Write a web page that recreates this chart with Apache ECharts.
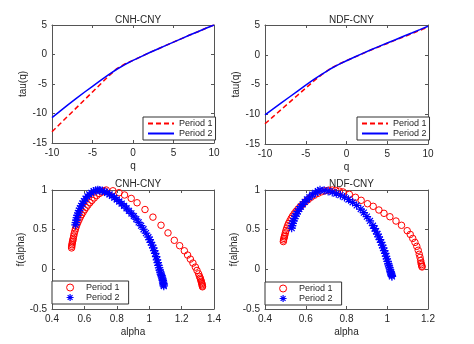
<!DOCTYPE html>
<html><head><meta charset="utf-8">
<script src="https://cdn.jsdelivr.net/npm/echarts@6/dist/echarts.min.js"></script>
<style>html,body{margin:0;padding:0;background:#fff}#c{width:474px;height:344px}</style>
</head><body><div id="c"></div>
<script>
// ---------- data ----------
const panelTitles = ['CNH-CNY', 'NDF-CNY', 'CNH-CNY', 'NDF-CNY'];
const legendNames = ['Period 1', 'Period 2'];
const qTicks = [-10, -5, 0, 5, 10];
const tauTicks = [-15, -10, -5, 0, 5];
const alphaTicksCNH = [0.4, 0.6, 0.8, 1, 1.2, 1.4];
const alphaTicksNDF = [0.4, 0.6, 0.8, 1, 1.2];
const fTicks = [-0.5, 0, 0.5, 1];

const qValues = [-10, -9, -8, -7, -6, -5, -4, -3, -2, -1, 0, 1, 2, 3, 4, 5, 6, 7, 8, 9, 10];
const cnhTauPeriod1 = [-13.1, -11.75, -10.4, -9.05, -7.7, -6.35, -5.0, -3.65, -2.4, -1.6, -1.0, -0.35, 0.3, 0.9, 1.5, 2.1, 2.7, 3.3, 3.85, 4.45, 5.0];
const cnhTauPeriod2 = [-10.7, -9.6, -8.5, -7.45, -6.4, -5.4, -4.4, -3.4, -2.5, -1.7, -1.0, -0.35, 0.3, 0.9, 1.5, 2.1, 2.7, 3.3, 3.85, 4.45, 5.0];
const ndfTauPeriod1 = [-11.6, -10.4, -9.2, -8.0, -6.8, -5.6, -4.4, -3.3, -2.35, -1.6, -1.0, -0.4, 0.2, 0.8, 1.35, 1.9, 2.45, 3.0, 3.55, 4.1, 4.65];
const ndfTauPeriod2 = [-10.1, -9.1, -8.1, -7.1, -6.1, -5.1, -4.15, -3.25, -2.4, -1.65, -1.0, -0.38, 0.23, 0.83, 1.4, 1.97, 2.53, 3.1, 3.65, 4.22, 4.8];

// [alpha, f(alpha)]
const cnhSpectrumPeriod1 = [
 [0.521,0.27],[0.522,0.29],[0.523,0.31],[0.525,0.33],[0.527,0.35],[0.529,0.37],[0.531,0.39],[0.534,0.42],[0.537,0.45],[0.541,0.48],
 [0.545,0.51],[0.550,0.54],[0.555,0.57],[0.561,0.60],[0.568,0.63],[0.575,0.66],[0.583,0.69],[0.592,0.72],[0.601,0.75],[0.611,0.78],
 [0.622,0.81],[0.634,0.84],[0.647,0.87],[0.661,0.90],[0.676,0.93],[0.692,0.955],[0.708,0.975],[0.722,0.99],[0.735,1.0],[0.776,0.99],
 [0.814,0.966],[0.848,0.937],[0.889,0.894],[0.925,0.839],[0.974,0.754],[1.023,0.658],[1.073,0.556],[1.116,0.459],[1.155,0.366],[1.188,0.298],
 [1.217,0.234],[1.237,0.180],[1.254,0.129],[1.270,0.079],[1.285,0.028],[1.295,-0.014],[1.305,-0.057],[1.311,-0.09],[1.315,-0.111],[1.318,-0.13],
 [1.321,-0.15],[1.323,-0.166],[1.325,-0.18],[1.327,-0.195],[1.328,-0.21],[1.329,-0.22]
];
const cnhSpectrumPeriod2 = [
 [0.545,0.56],[0.547,0.59],[0.550,0.62],[0.553,0.65],[0.557,0.68],[0.562,0.71],[0.567,0.74],[0.573,0.77],[0.580,0.80],[0.588,0.83],
 [0.597,0.86],[0.607,0.89],[0.618,0.92],[0.630,0.945],[0.643,0.965],[0.657,0.985],[0.670,0.995],[0.683,1.0],[0.695,0.998],[0.710,0.99],
 [0.725,0.978],[0.740,0.963],[0.755,0.945],[0.770,0.925],[0.785,0.903],[0.800,0.88],[0.815,0.855],[0.830,0.828],[0.845,0.80],[0.860,0.77],
 [0.875,0.738],[0.890,0.705],[0.905,0.67],[0.920,0.632],[0.935,0.592],[0.950,0.55],[0.965,0.505],[0.980,0.457],[0.995,0.405],[1.003,0.375],
 [1.010,0.34],[1.018,0.305],[1.025,0.27],[1.031,0.235],[1.037,0.20],[1.043,0.16],[1.048,0.12],[1.053,0.085],[1.057,0.05],[1.061,0.02],
 [1.065,-0.01],[1.069,-0.035],[1.072,-0.06],[1.076,-0.08],[1.079,-0.10],[1.082,-0.12],[1.084,-0.14],[1.086,-0.16],[1.088,-0.18],[1.089,-0.195],[1.090,-0.21]
];
const ndfSpectrumPeriod1 = [
 [0.490,0.35],[0.491,0.37],[0.493,0.39],[0.495,0.41],[0.497,0.43],[0.500,0.46],[0.503,0.49],[0.507,0.52],[0.511,0.55],[0.516,0.58],
 [0.522,0.61],[0.528,0.64],[0.535,0.67],[0.543,0.70],[0.552,0.73],[0.562,0.76],[0.573,0.79],[0.585,0.82],[0.598,0.85],[0.612,0.88],
 [0.627,0.91],[0.643,0.935],[0.660,0.958],[0.677,0.977],[0.695,0.99],[0.712,0.998],[0.730,1.0],[0.748,0.995],[0.765,0.986],[0.783,0.975],
 [0.814,0.946],[0.844,0.908],[0.872,0.87],[0.903,0.827],[0.931,0.794],[0.959,0.748],[0.984,0.706],[1.013,0.663],[1.043,0.609],[1.070,0.555],
 [1.098,0.487],[1.113,0.44],[1.125,0.39],[1.136,0.34],[1.145,0.29],[1.152,0.24],[1.157,0.19],[1.161,0.15],[1.164,0.11],[1.166,0.08],
 [1.168,0.06],[1.170,0.04],[1.171,0.03]
];
const ndfSpectrumPeriod2 = [
 [0.531,0.52],[0.533,0.55],[0.536,0.58],[0.540,0.61],[0.544,0.64],[0.549,0.67],[0.555,0.70],[0.561,0.73],[0.568,0.76],[0.576,0.79],
 [0.585,0.82],[0.595,0.85],[0.606,0.88],[0.618,0.91],[0.632,0.94],[0.647,0.965],[0.660,0.985],[0.670,1.0],[0.690,0.995],[0.710,0.985],
 [0.730,0.972],[0.750,0.955],[0.770,0.935],[0.790,0.91],[0.810,0.88],[0.830,0.845],[0.850,0.805],[0.870,0.76],[0.885,0.715],[0.900,0.665],
 [0.915,0.61],[0.930,0.55],[0.938,0.515],[0.945,0.48],[0.952,0.445],[0.958,0.41],[0.964,0.375],[0.970,0.34],[0.975,0.305],[0.980,0.27],
 [0.985,0.235],[0.990,0.20],[0.994,0.165],[0.998,0.13],[1.002,0.10],[1.005,0.07],[1.008,0.045],[1.011,0.02],[1.014,-0.005],[1.016,-0.03],
 [1.018,-0.045],[1.020,-0.06],[1.022,-0.075],[1.023,-0.09]
];

// ---------- chart ----------
const RED = '#ff0000', BLUE = '#0000ff';
const AXIS_C = '#555555', TEXT_C = '#262626';
const FONT = 'Liberation Sans, Arial, sans-serif';
const grids = [
  {left: 52, top: 25, width: 162, height: 118},
  {left: 265, top: 25, width: 163, height: 119},
  {left: 52, top: 190, width: 162, height: 119},
  {left: 265, top: 190, width: 163, height: 119}
];
const panelX = [
  {ticks: qTicks, name: 'q', gap: 18},
  {ticks: qTicks, name: 'q', gap: 18},
  {ticks: alphaTicksCNH, name: 'alpha', gap: 18},
  {ticks: alphaTicksNDF, name: 'alpha', gap: 18}
];
const panelY = [
  {ticks: tauTicks, name: 'tau(q)', gap: 23},
  {ticks: tauTicks, name: 'tau(q)', gap: 23},
  {ticks: fTicks, name: 'f(alpha)', gap: 23},
  {ticks: fTicks, name: 'f(alpha)', gap: 23}
];
function rng(t) { return {min: t[0], max: t[t.length - 1], interval: +(t[1] - t[0]).toFixed(6)}; }
const xAxes = [], yAxes = [];
grids.forEach((g, i) => {
  const xr = rng(panelX[i].ticks), yr = rng(panelY[i].ticks);
  const common = {
    type: 'value', gridIndex: i, splitLine: {show: false},
    axisLine: {show: true, onZero: false, lineStyle: {color: AXIS_C, width: 1}},
    axisTick: {show: true, inside: true, length: 3, lineStyle: {color: AXIS_C}}
  };
  xAxes.push(Object.assign({}, common, xr, {
    position: 'bottom', name: panelX[i].name, nameLocation: 'middle', nameGap: panelX[i].gap,
    nameTextStyle: {fontSize: 10, color: TEXT_C, fontFamily: FONT},
    axisLabel: {fontSize: 10, color: TEXT_C, margin: 5, fontFamily: FONT}
  }));
  xAxes.push(Object.assign({}, common, xr, {position: 'top', axisLabel: {show: false}}));
  yAxes.push(Object.assign({}, common, yr, {
    position: 'left', name: panelY[i].name, nameLocation: 'middle', nameGap: panelY[i].gap, nameRotate: 90,
    nameTextStyle: {fontSize: 10, color: TEXT_C, fontFamily: FONT},
    axisLabel: {fontSize: 10, color: TEXT_C, margin: 5, fontFamily: FONT}
  }));
  yAxes.push(Object.assign({}, common, yr, {position: 'right', axisLabel: {show: false}}));
});

function zip(xs, ys) { return xs.map((x, k) => [x, ys[k]]); }
function lineSeries(name, panel, q, tau, color, dashed) {
  return {
    name: name, type: 'line', xAxisIndex: panel * 2, yAxisIndex: panel * 2,
    data: zip(q, tau), symbol: 'none', showSymbol: false, smooth: false,
    lineStyle: {color: color, width: 1.5, type: dashed ? [5, 3] : 'solid'},
    itemStyle: {color: color}, z: dashed ? 2 : 3
  };
}
const STAR = 'path://M5,0L5,10M0,5L10,5M1.5,1.5L8.5,8.5M1.5,8.5L8.5,1.5';
const circleStyle = {color: 'rgba(0,0,0,0)', borderColor: RED, borderWidth: 1, opacity: 1};
const starStyle = {color: 'rgba(0,0,0,0)', borderColor: BLUE, borderWidth: 1.2, opacity: 1};
function scatterSeries(name, panel, pts, star) {
  return {
    name: name, type: 'scatter', xAxisIndex: panel * 2, yAxisIndex: panel * 2,
    data: pts, symbol: star ? STAR : 'circle', symbolSize: star ? 8.5 : 6.5,
    itemStyle: star ? starStyle : circleStyle,
    z: star ? 3 : 2
  };
}
const S1 = legendNames[0] + ' ', S2 = legendNames[1] + ' ';
const series = [
  lineSeries(legendNames[0], 0, qValues, cnhTauPeriod1, RED, true),
  lineSeries(legendNames[1], 0, qValues, cnhTauPeriod2, BLUE, false),
  lineSeries(legendNames[0], 1, qValues, ndfTauPeriod1, RED, true),
  lineSeries(legendNames[1], 1, qValues, ndfTauPeriod2, BLUE, false),
  scatterSeries(S1, 2, cnhSpectrumPeriod1, false),
  scatterSeries(S2, 2, cnhSpectrumPeriod2, true),
  scatterSeries(S1, 3, ndfSpectrumPeriod1, false),
  scatterSeries(S2, 3, ndfSpectrumPeriod2, true)
];

function legendAt(left, top, items, iw, ih, extra) {
  return Object.assign({
    left: left, top: top, orient: 'vertical', data: items, selectedMode: false,
    itemWidth: iw, itemHeight: ih, itemGap: 1, padding: [2, 3, 2, 4],
    borderColor: '#333', borderWidth: 1, borderRadius: 0, backgroundColor: '#fff',
    formatter: n => n.trim(),
    textStyle: {fontSize: 9, color: TEXT_C, fontFamily: FONT}
  }, extra || {});
}
const lineLegendItems = legendNames.map(n => ({name: n}));
const scatterLegendItems = [
  {name: S1, icon: 'circle', itemStyle: {color: 'rgba(0,0,0,0)', borderColor: RED, borderWidth: 1}},
  {name: S2, icon: STAR, itemStyle: {color: 'rgba(0,0,0,0)', borderColor: BLUE, borderWidth: 1.2}}
];
const titles = panelTitles.map((t, i) => ({
  text: t, left: grids[i].left + grids[i].width / 2, top: i < 2 ? 10 : 174, textAlign: 'center',
  textStyle: {fontSize: 10, fontWeight: 'normal', color: TEXT_C, fontFamily: FONT}
}));

const chart = echarts.init(document.getElementById('c'), null, {renderer: 'canvas'});
chart.setOption({
  animation: false, backgroundColor: '#fff',
  title: titles,
  grid: grids,
  xAxis: xAxes, yAxis: yAxes,
  legend: [
    legendAt(143, 117, lineLegendItems, 26, 9, {itemStyle: {opacity: 0}}),
    legendAt(357, 117, lineLegendItems, 26, 9, {itemStyle: {opacity: 0}}),
    legendAt(52, 281, scatterLegendItems, 12, 7, {padding: [2, 9, 2, 14], formatter: n => '  ' + n.trim()}),
    legendAt(265, 282, scatterLegendItems, 12, 7, {padding: [2, 9, 2, 14], formatter: n => '  ' + n.trim()})
  ],
  series: series
});
</script></body></html>
